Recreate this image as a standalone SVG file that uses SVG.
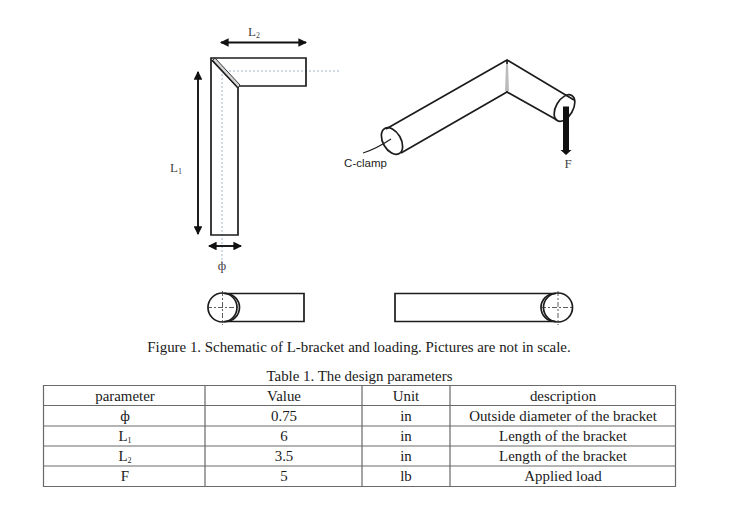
<svg xmlns="http://www.w3.org/2000/svg" width="737" height="511" viewBox="0 0 737 511">
<defs>
<style>
.s{fill:none;stroke:#1c1c1c;stroke-width:1.7}
.d{fill:none;stroke:#9fb4c8;stroke-width:1;stroke-dasharray:2 2}
.a{fill:none;stroke:#111;stroke-width:1.9;marker-start:url(#h);marker-end:url(#h)}
.c{fill:none;stroke:#333;stroke-width:.8;stroke-dasharray:5 2 2 2}
.g{stroke:#6a6a6a;stroke-width:1.2;fill:none}
text{font-family:"Liberation Serif",serif;font-size:14.900px;fill:#1a1a1a;text-anchor:middle}
.l{font-size:13px;fill:#444}
.sm{font-size:8px}
</style>
<marker id="h" viewBox="0 0 8 8" refX="7" refY="4" markerWidth="4.6" markerHeight="4.6" orient="auto-start-reverse"><path d="M0 0L8 4L0 8z" fill="#111"/></marker>
</defs>
<g id="bracket-front">
<path class="d" d="M229 71H339M222 74V268"/>
<path class="s" d="M211 58H306V86H238V235H211Z"/>
<path d="M212 61L215 58L240 85L238 88Z" fill="#d4d4d4" stroke="#222" stroke-width=".9"/>
<path d="M212 60L238 88" fill="none" stroke="#1c1c1c" stroke-width="1.5"/>
</g>
<g id="bracket-3d">
<path class="s" d="M386 129L507 60L574 100M401 153L507 92L557 120M507 60V92"/>
<path d="M506 64L508 64L509 91H505Z" fill="#bbb"/>
<ellipse class="s" cx="392" cy="141" rx="9" ry="14.500" transform="rotate(-30 392 141)"/>
<ellipse class="s" cx="564.500" cy="108" rx="8.500" ry="14.500" transform="rotate(30 564.500 108)"/>
<path d="M363 153Q376 149 391 139" fill="none" stroke="#222" stroke-width="1.3"/>
<text x="365.500" y="167" style="font-family:'Liberation Sans',sans-serif;font-size:11.500px;fill:#222">C-clamp</text>
</g>
<g id="load-F">
<path d="M563 106.500H569V150H571.500L566 155L560.500 150H563Z" fill="#111"/>
<text class="l" x="568" y="168">F</text>
</g>
<g id="connectors">
<path class="a" d="M221 42.500H306"/>
<path class="a" d="M198 72V234"/>
<path class="a" d="M209 246H241"/>
</g>
<g id="labels">
<text class="l" x="254" y="36">L<tspan class="sm" dy="2">2</tspan></text>
<text class="l" x="176" y="172">L<tspan class="sm" dy="2">1</tspan></text>
<text class="l" x="222" y="270">ф</text>
</g>
<g id="end-left">
<path class="s" d="M224 293.500H304V321.500H224"/>
<circle class="s" cx="222.500" cy="307.500" r="14.500"/>
<path class="s" d="M225.500 293.500A14 14 0 0 1 225.500 321.500"/>
<path class="c" d="M207 307.500H240M222.500 291V325"/>
</g>
<g id="end-right">
<path class="s" d="M556 293.500H395V321.500H556"/>
<circle class="s" cx="558" cy="307.500" r="14.500"/>
<path class="s" d="M555 293.500A14 14 0 0 0 555 321.500"/>
<path class="c" d="M541 307.500H574M558 291V325"/>
</g>
<g id="captions">
<text x="359" y="352">Figure 1. Schematic of L-bracket and loading. Pictures are not in scale.</text>
<text x="359.500" y="381">Table 1. The design parameters</text>
</g>
<g id="table">
<path class="g" d="M43.500 385.500H675.500V486.500H43.500ZM43.500 405.500H675.500M43.500 426H675.500M43.500 446H675.500M43.500 466H675.500M205 385.500V486.500M362 385.500V486.500M450 385.500V486.500"/>
<text x="125" y="401">parameter</text><text x="284" y="401">Value</text><text x="406" y="401">Unit</text><text x="563" y="401">description</text>
<text x="125" y="421">ф</text><text x="284" y="421">0.75</text><text x="406" y="421">in</text><text x="563" y="421">Outside diameter of the bracket</text>
<text x="125" y="441">L<tspan class="sm" dy="2">1</tspan></text><text x="284" y="441">6</text><text x="406" y="441">in</text><text x="563" y="441">Length of the bracket</text>
<text x="125" y="461">L<tspan class="sm" dy="2">2</tspan></text><text x="284" y="461">3.5</text><text x="406" y="461">in</text><text x="563" y="461">Length of the bracket</text>
<text x="125" y="481">F</text><text x="284" y="481">5</text><text x="406" y="481">lb</text><text x="563" y="481">Applied load</text>
</g>
</svg>
